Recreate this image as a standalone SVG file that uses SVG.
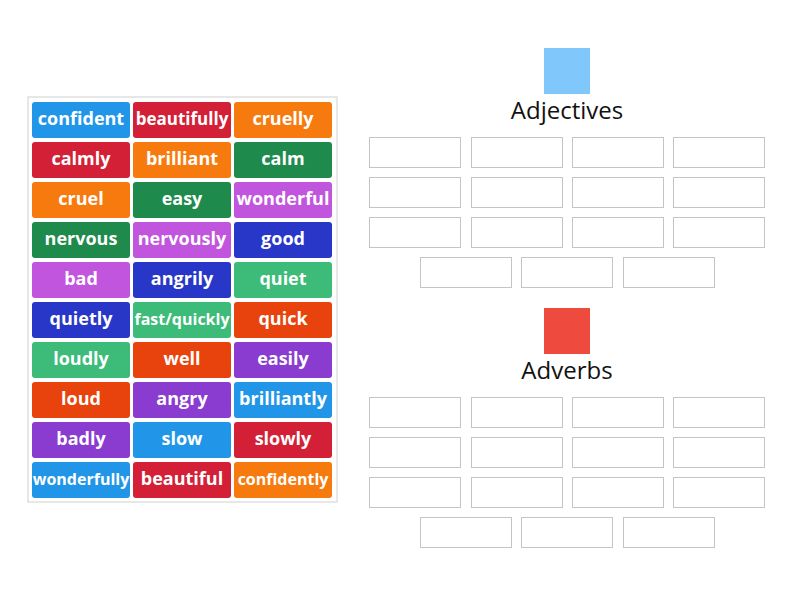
<svg xmlns="http://www.w3.org/2000/svg" width="800" height="600" viewBox="0 0 800 600">
<style>
.t{font-family:"Open Sans","DejaVu Sans",sans-serif;font-weight:bold;font-size:18px;fill:#fff;text-anchor:middle}
.s{font-size:16px}
.m{font-size:17px}
.b{fill:#fff;stroke:#c4c4c4;stroke-width:1}
.h{font-family:"Open Sans","DejaVu Sans",sans-serif;font-size:24px;fill:#111;text-anchor:middle}
.c1{fill:#2196e8}.c2{fill:#d32036}.c3{fill:#f77a0e}.c4{fill:#1e8a4c}.c5{fill:#c155dd}.c6{fill:#2837c7}.c7{fill:#3dbb78}.c8{fill:#e8430c}.c9{fill:#8a3bd0}
</style>
<rect width="800" height="600" fill="#fff"/>
<rect x="28" y="97" width="309" height="405" fill="#fff" stroke="#d0d0d0"/>
<g id="tiles">
<g id="n1"><rect class="c1" x="32" y="102" width="98" height="36" rx="3"/><text class="t" x="81" y="125">confident</text></g>
<g id="n2"><rect class="c2" x="133" y="102" width="98" height="36" rx="3"/><text class="t m" x="182" y="124.5">beautifully</text></g>
<g id="n3"><rect class="c3" x="234" y="102" width="98" height="36" rx="3"/><text class="t" x="283" y="125">cruelly</text></g>
<g id="n4"><rect class="c2" x="32" y="142" width="98" height="36" rx="3"/><text class="t" x="81" y="165">calmly</text></g>
<g id="n5"><rect class="c3" x="133" y="142" width="98" height="36" rx="3"/><text class="t" x="182" y="165">brilliant</text></g>
<g id="n6"><rect class="c4" x="234" y="142" width="98" height="36" rx="3"/><text class="t" x="283" y="165">calm</text></g>
<g id="n7"><rect class="c3" x="32" y="182" width="98" height="36" rx="3"/><text class="t" x="81" y="205">cruel</text></g>
<g id="n8"><rect class="c4" x="133" y="182" width="98" height="36" rx="3"/><text class="t" x="182" y="205">easy</text></g>
<g id="n9"><rect class="c5" x="234" y="182" width="98" height="36" rx="3"/><text class="t" x="283" y="205">wonderful</text></g>
<g id="n10"><rect class="c4" x="32" y="222" width="98" height="36" rx="3"/><text class="t" x="81" y="245">nervous</text></g>
<g id="n11"><rect class="c5" x="133" y="222" width="98" height="36" rx="3"/><text class="t" x="182" y="245">nervously</text></g>
<g id="n12"><rect class="c6" x="234" y="222" width="98" height="36" rx="3"/><text class="t" x="283" y="245">good</text></g>
<g id="n13"><rect class="c5" x="32" y="262" width="98" height="36" rx="3"/><text class="t" x="81" y="285">bad</text></g>
<g id="n14"><rect class="c6" x="133" y="262" width="98" height="36" rx="3"/><text class="t" x="182" y="285">angrily</text></g>
<g id="n15"><rect class="c7" x="234" y="262" width="98" height="36" rx="3"/><text class="t" x="283" y="285">quiet</text></g>
<g id="n16"><rect class="c6" x="32" y="302" width="98" height="36" rx="3"/><text class="t" x="81" y="325">quietly</text></g>
<g id="n17"><rect class="c7" x="133" y="302" width="98" height="36" rx="3"/><text class="t s" x="182" y="324.5">fast/quickly</text></g>
<g id="n18"><rect class="c8" x="234" y="302" width="98" height="36" rx="3"/><text class="t" x="283" y="325">quick</text></g>
<g id="n19"><rect class="c7" x="32" y="342" width="98" height="36" rx="3"/><text class="t" x="81" y="365">loudly</text></g>
<g id="n20"><rect class="c8" x="133" y="342" width="98" height="36" rx="3"/><text class="t" x="182" y="365">well</text></g>
<g id="n21"><rect class="c9" x="234" y="342" width="98" height="36" rx="3"/><text class="t" x="283" y="365">easily</text></g>
<g id="n22"><rect class="c8" x="32" y="382" width="98" height="36" rx="3"/><text class="t" x="81" y="405">loud</text></g>
<g id="n23"><rect class="c9" x="133" y="382" width="98" height="36" rx="3"/><text class="t" x="182" y="405">angry</text></g>
<g id="n24"><rect class="c1" x="234" y="382" width="98" height="36" rx="3"/><text class="t" x="283" y="405">brilliantly</text></g>
<g id="n25"><rect class="c9" x="32" y="422" width="98" height="36" rx="3"/><text class="t" x="81" y="445">badly</text></g>
<g id="n26"><rect class="c1" x="133" y="422" width="98" height="36" rx="3"/><text class="t" x="182" y="445">slow</text></g>
<g id="n27"><rect class="c2" x="234" y="422" width="98" height="36" rx="3"/><text class="t" x="283" y="445">slowly</text></g>
<g id="n28"><rect class="c1" x="32" y="462" width="98" height="36" rx="3"/><text class="t s" x="81" y="484.5">wonderfully</text></g>
<g id="n29"><rect class="c2" x="133" y="462" width="98" height="36" rx="3"/><text class="t" x="182" y="485">beautiful</text></g>
<g id="n30"><rect class="c3" x="234" y="462" width="98" height="36" rx="3"/><text class="t s" x="283" y="484.5">confidently</text></g>
</g>
<g id="adjectives">
<rect x="544" y="48" width="46" height="46" fill="#80c8fc"/>
<text class="h" x="567" y="119">Adjectives</text>
<rect class="b" x="369.5" y="137.5" width="91" height="30"/><rect class="b" x="471.5" y="137.5" width="91" height="30"/><rect class="b" x="572.5" y="137.5" width="91" height="30"/><rect class="b" x="673.5" y="137.5" width="91" height="30"/>
<rect class="b" x="369.5" y="177.5" width="91" height="30"/><rect class="b" x="471.5" y="177.5" width="91" height="30"/><rect class="b" x="572.5" y="177.5" width="91" height="30"/><rect class="b" x="673.5" y="177.5" width="91" height="30"/>
<rect class="b" x="369.5" y="217.5" width="91" height="30"/><rect class="b" x="471.5" y="217.5" width="91" height="30"/><rect class="b" x="572.5" y="217.5" width="91" height="30"/><rect class="b" x="673.5" y="217.5" width="91" height="30"/>
<rect class="b" x="420.5" y="257.5" width="91" height="30"/><rect class="b" x="521.5" y="257.5" width="91" height="30"/><rect class="b" x="623.5" y="257.5" width="91" height="30"/>
</g>
<g id="adverbs">
<rect x="544" y="308" width="46" height="46" fill="#ef4a3e"/>
<text class="h" x="567" y="379">Adverbs</text>
<rect class="b" x="369.5" y="397.5" width="91" height="30"/><rect class="b" x="471.5" y="397.5" width="91" height="30"/><rect class="b" x="572.5" y="397.5" width="91" height="30"/><rect class="b" x="673.5" y="397.5" width="91" height="30"/>
<rect class="b" x="369.5" y="437.5" width="91" height="30"/><rect class="b" x="471.5" y="437.5" width="91" height="30"/><rect class="b" x="572.5" y="437.5" width="91" height="30"/><rect class="b" x="673.5" y="437.5" width="91" height="30"/>
<rect class="b" x="369.5" y="477.5" width="91" height="30"/><rect class="b" x="471.5" y="477.5" width="91" height="30"/><rect class="b" x="572.5" y="477.5" width="91" height="30"/><rect class="b" x="673.5" y="477.5" width="91" height="30"/>
<rect class="b" x="420.5" y="517.5" width="91" height="30"/><rect class="b" x="521.5" y="517.5" width="91" height="30"/><rect class="b" x="623.5" y="517.5" width="91" height="30"/>
</g>
</svg>
